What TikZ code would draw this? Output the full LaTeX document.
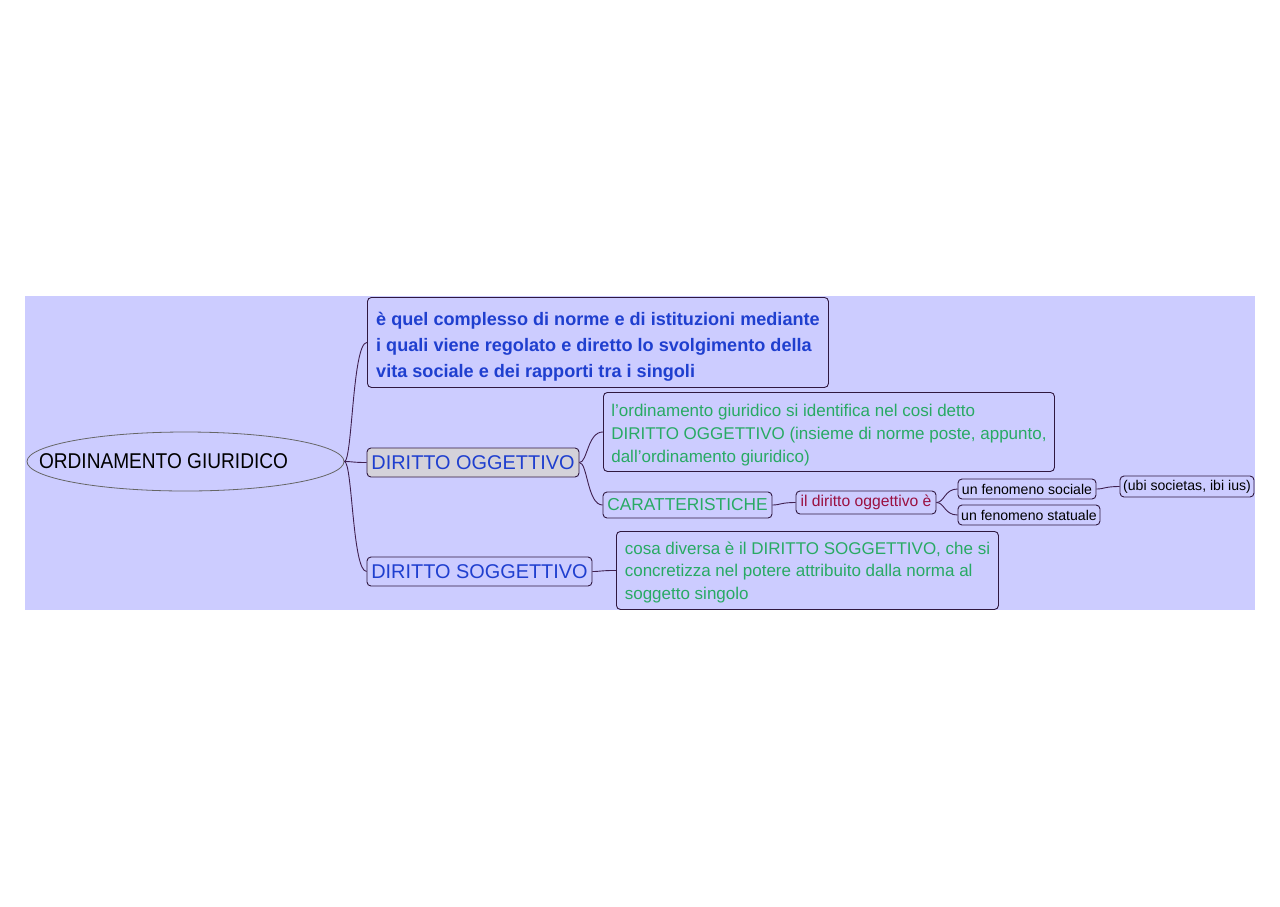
\documentclass[tikz,border=0pt]{standalone}
\usepackage{fontspec}
\usepackage{graphicx}
\setmainfont{Liberation Sans}
\usetikzlibrary{shapes.geometric,calc}
\definecolor{bgc}{RGB}{204,204,255}
\definecolor{bordc}{RGB}{48,24,64}
\definecolor{connc}{RGB}{64,32,80}
\definecolor{bluet}{RGB}{31,63,207}
\definecolor{greent}{RGB}{40,170,100}
\definecolor{redt}{RGB}{154,16,64}
\definecolor{grayf}{RGB}{212,210,218}
\newcommand{\mlines}[2]{\raisebox{-#1}[\height][\depth]{\begin{tabular}{@{}l@{}}#2\end{tabular}}}
\tikzset{
  box/.style={draw=bordc, line width=0.9pt, rounded corners=4pt, fill=bgc, inner sep=0pt},
  conn/.style={draw=connc, line width=0.9pt,
    to path={let \p1=(\tikztostart), \p2=(\tikztotarget) in
      .. controls (\x1+8pt,\y1) and (\x1+8pt,\y2) .. (\tikztotarget) \tikztonodes}},
}
\begin{document}
\begin{tikzpicture}[x=1pt,y=-1pt]
\useasboundingbox (0,0) rectangle (1280,906);
\fill[bgc] (25,296) rectangle (1255,610);
\node[ellipse, draw=gray!80!black, line width=0.8pt, minimum width=317pt, minimum height=59pt, inner sep=0pt] (og) at (185.5,461.5)
  {\makebox[0pt][l]{\kern-146.5pt\scalebox{1}[1.12]{\fontsize{19.1}{22}\selectfont ORDINAMENTO GIURIDICO}}};
\node[box, anchor=north west, minimum width=461pt, minimum height=90pt,
  text=bluet, font=\bfseries\fontsize{18.1}{26}\selectfont] (b1) at (367,297)
  {\mlines{4pt}{è quel complesso di norme e di istituzioni mediante\\i quali viene regolato e diretto lo svolgimento della\\vita sociale e dei rapporti tra i singoli}};
\node[box, fill=grayf, minimum width=212pt, minimum height=29pt, text=bluet, font=\fontsize{19.9}{22}\selectfont] (doo) at (473,462.5) {DIRITTO OGGETTIVO};
\node[box, minimum width=225pt, minimum height=29pt, text=bluet, font=\fontsize{19.9}{22}\selectfont] (dso) at (479.5,571.5) {DIRITTO SOGGETTIVO};
\node[box, anchor=north west, minimum width=451pt, minimum height=79pt,
  text=greent, font=\fontsize{17.0}{23}\selectfont] (g1) at (603,392)
  {\mlines{3pt}{l'ordinamento giuridico si identifica nel cosi detto\\DIRITTO OGGETTIVO (insieme di norme poste, appunto,\\dall'ordinamento giuridico)}};
\node[box, minimum width=169pt, minimum height=26pt, text=greent, font=\fontsize{17.3}{20}\selectfont] (car) at (687.5,505) {CARATTERISTICHE};
\node[box, minimum width=140pt, minimum height=23pt, text=redt, font=\fontsize{15.7}{18}\selectfont] (ido) at (866,502.5) {il diritto oggettivo è};
\node[box, minimum width=138pt, minimum height=20pt, font=\fontsize{14.1}{16}\selectfont] (fs) at (1027,489) {un fenomeno sociale};
\node[box, minimum width=142pt, minimum height=20pt, font=\fontsize{14.1}{16}\selectfont] (fst) at (1029,515) {un fenomeno statuale};
\node[box, minimum width=134pt, minimum height=21pt, font=\fontsize{14.1}{16}\selectfont] (ubi) at (1187,486.5) {(ubi societas, ibi ius)};
\node[box, anchor=north west, minimum width=382pt, minimum height=78pt,
  text=greent, font=\fontsize{17.0}{22.5}\selectfont] (g2) at (616,531)
  {\mlines{2pt}{cosa diversa è il DIRITTO SOGGETTIVO, che si\\concretizza nel potere attribuito dalla norma al\\soggetto singolo}};
\draw[conn] (og.east) to (b1.west);
\draw[conn] (og.east) to (doo.west);
\draw[conn] (og.east) to (dso.west);
\draw[conn] (doo.east) to (g1.west);
\draw[conn] (doo.east) to (car.west);
\draw[conn] (dso.east) to (g2.west);
\draw[conn] (car.east) to (ido.west);
\draw[conn] (ido.east) to (fs.west);
\draw[conn] (ido.east) to (fst.west);
\draw[conn] (fs.east) to (ubi.west);
\end{tikzpicture}
\end{document}
